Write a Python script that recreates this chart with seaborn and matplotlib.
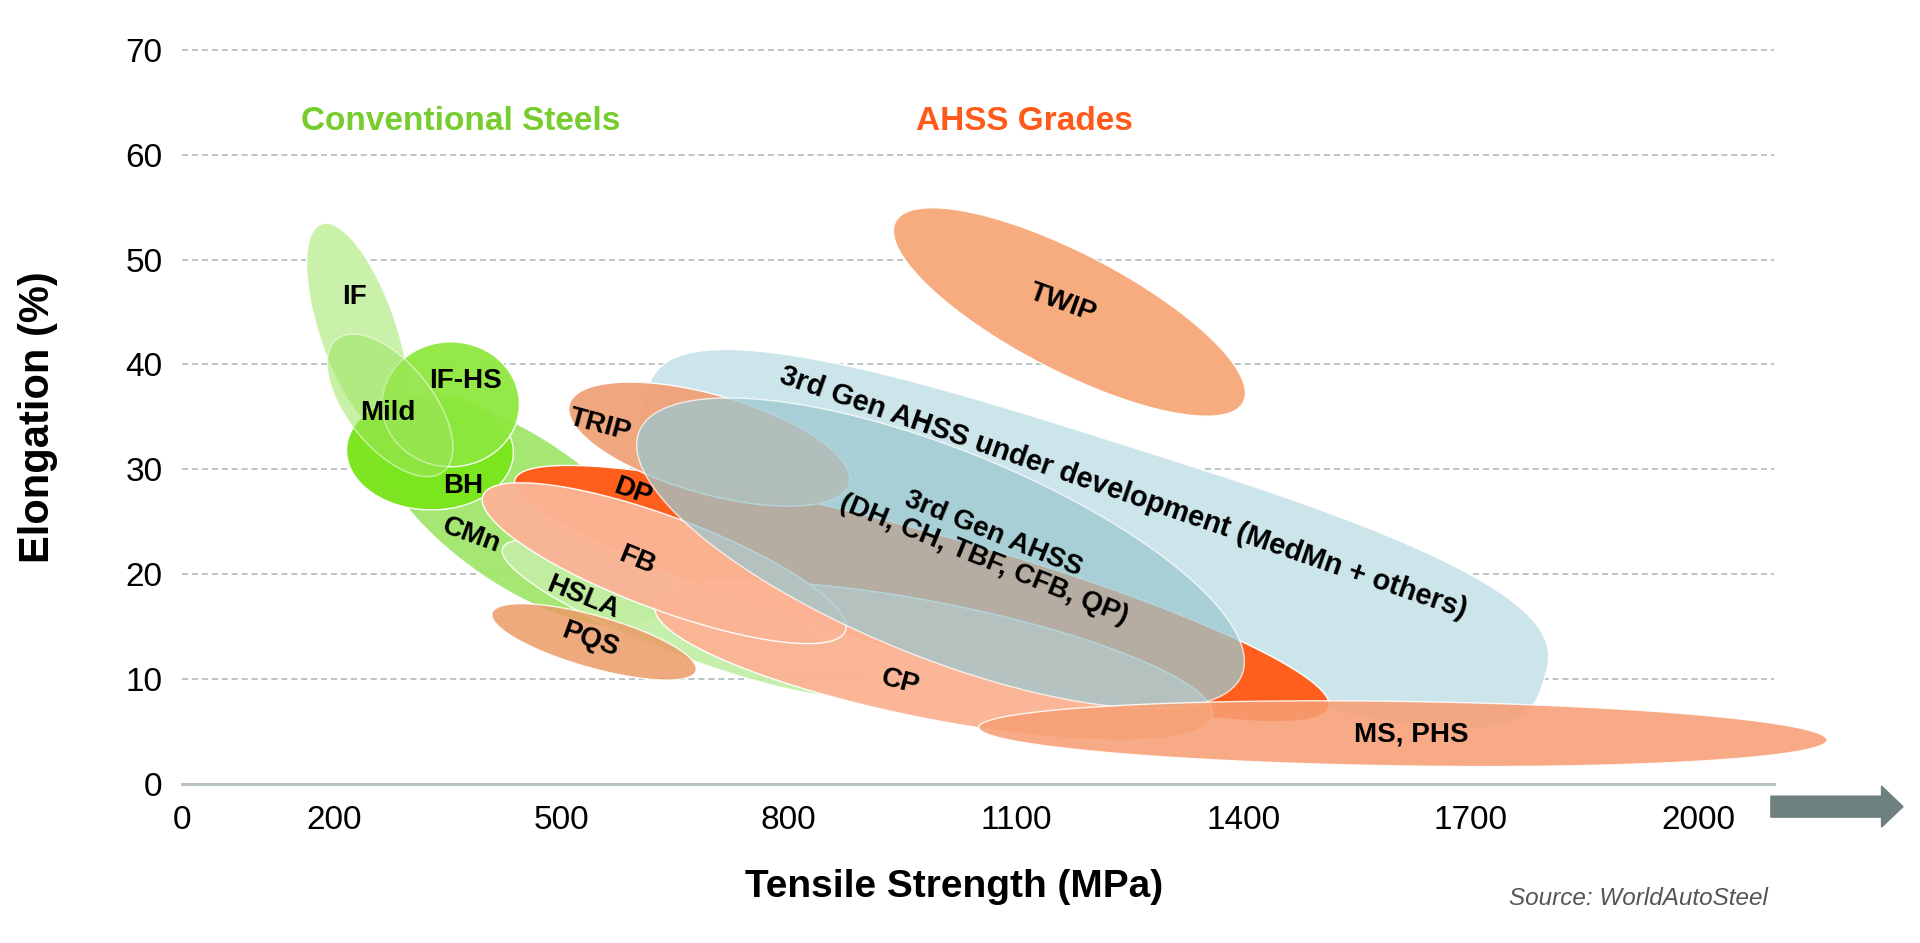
import numpy as np
import matplotlib
matplotlib.use("Agg")
import matplotlib.pyplot as plt
from matplotlib.patches import FancyArrow
import seaborn as sns

# Steel grade regions: major axis runs from (ts_start, el_start) to (ts_end, el_end)
grades = ["3rd Gen AHSS under development (MedMn + others)", "IF", "CMn", "BH", "IF-HS", "Mild",
          "HSLA", "DP", "TRIP", "CP", "FB", "PQS", "3rd Gen AHSS", "TWIP", "MS, PHS"]
ts_start = [610, 184, 261, 217, 264, 204, 423, 439, 511, 624, 397, 409, 603, 941, 1051]
ts_end = [1796, 280, 632, 437, 445, 345, 906, 1513, 880, 1359, 875, 678, 1398, 1400, 2170]
el_start = [36.9, 53.4, 35.3, 31.9, 36.2, 42.4, 22.5, 29.0, 36.2, 17.0, 27.5, 16.3, 33.6, 53.6, 5.4]
el_end = [9.8, 33.1, 16.6, 31.5, 36.2, 29.8, 9.1, 7.3, 28.6, 6.5, 14.6, 10.8, 10.4, 36.4, 4.2]
# width of each region relative to its length
thickness = [0.21, 0.34, 0.43, 0.70, 0.91, 0.50, 0.19, 0.145, 0.34, 0.205, 0.24, 0.245, 0.32, 0.30, 0.076]
shape_power = [3.0, 2, 2, 2, 2, 2, 2, 2, 2, 2, 2, 2, 2, 2, 2]

colors = ["#cce5ea", "#c6f1a6", "#a0e66a", "#7ae51a", "#8ee83e", "#9ee65e",
          "#c3eea5", "#ff5e1c", "#f0a278", "#fbb394", "#fbb495", "#eb9b66",
          "#9cc8d0", "#f7aa7b", "#f79f74"]
alphas = [1, 0.95, 0.95, 0.97, 0.95, 0.55, 0.92, 1, 0.95, 0.97, 0.97, 0.85, 0.75, 0.97, 0.88]

# label anchors (tensile strength, elongation) and text rotation
label_text = ["IF", "IF-HS", "Mild", "BH", "CMn", "HSLA", "PQS", "TRIP", "DP", "FB", "CP",
              "MS, PHS", "TWIP", "3rd Gen AHSS under development (MedMn + others)",
              "3rd Gen AHSS\n(DH, CH, TBF, CFB, QP)"]
label_ts = [228, 374, 272, 371, 382, 529, 539, 552, 595, 600, 947, 1621, 1162, 1241, 1064]
label_el = [46.4, 38.4, 35.4, 28.4, 23.7, 17.8, 13.7, 34.2, 27.8, 21.3, 9.7, 4.7, 45.8, 27.8, 22.6]
label_rot = [0, 0, 0, 0, -20, -22, -20, -15, -20, -22, -15, 0, -20, -19, -22]
label_size = [20, 20, 20, 20, 20, 20, 20, 20, 20, 20, 20, 20, 20, 21, 20]

x_ticks = [0, 200, 500, 800, 1100, 1400, 1700, 2000]
y_ticks = [0, 10, 20, 30, 40, 50, 60, 70]

sns.set_theme(style="whitegrid", rc={
    "grid.color": "#a9b5b5",
    "grid.linestyle": (0, (4, 2.5)),
    "grid.linewidth": 1.1,
    "text.color": "black",
})
plt.rcParams["font.family"] = ["Liberation Sans", "DejaVu Sans"]

fig = plt.figure(figsize=(19.2, 9.43), dpi=100)
ax = fig.add_axes([0.0948, 0.1686, 0.8292, 0.7842])
ax.set_xlim(0, 2100)
ax.set_ylim(0, 70.5)


def region_outline(ax, x0, x1, y0, y1, ratio, power, n=240):
    # build the ellipse in screen space so it looks like the original, then map back to data
    p = ax.transData.transform(np.array([[x0, y0], [x1, y1]]))
    c = p.mean(axis=0)
    d = (p[1] - p[0]) / 2
    a = np.hypot(*d)
    u = d / a
    v = np.array([-u[1], u[0]])
    t = np.linspace(0, 2 * np.pi, n)
    cu = np.sign(np.cos(t)) * np.abs(np.cos(t)) ** (2 / power)
    sv = np.sign(np.sin(t)) * np.abs(np.sin(t)) ** (2 / power)
    pts = c + np.outer(a * cu, u) + np.outer(ratio * a * sv, v)
    return ax.transData.inverted().transform(pts)


for i, g in enumerate(grades):
    pts = region_outline(ax, ts_start[i], ts_end[i], el_start[i], el_end[i],
                         thickness[i], shape_power[i])
    ax.fill(pts[:, 0], pts[:, 1], facecolor=colors[i], alpha=alphas[i],
            edgecolor="white", linewidth=1.0, zorder=2 + i, clip_on=False)

for txt, x, y, r, s in zip(label_text, label_ts, label_el, label_rot, label_size):
    ax.text(x, y, txt, ha="center", va="center", rotation=r, rotation_mode="anchor",
            fontsize=s, fontweight="bold", color="black", zorder=30,
            multialignment="center", linespacing=1.05)

ax.text(368, 63.2, "Conventional Steels", ha="center", va="center",
        fontsize=24, fontweight="bold", color="#77cc2e", zorder=30)
ax.text(1111, 63.2, "AHSS Grades", ha="center", va="center",
        fontsize=24, fontweight="bold", color="#ff5a1a", zorder=30)

ax.set_xticks(x_ticks)
ax.set_xticklabels([str(v) for v in x_ticks])
ax.set_yticks(y_ticks)
ax.set_yticklabels([str(v) for v in y_ticks])
ax.tick_params(axis="both", length=0, labelsize=24, colors="black")
ax.tick_params(axis="x", pad=15)
ax.tick_params(axis="y", pad=14)
ax.grid(axis="x", visible=False)
ax.grid(axis="y", visible=True)
ax.set_axisbelow(True)

sns.despine(ax=ax, left=True, top=True, right=True)
ax.spines["bottom"].set_color("#b8c2c2")
ax.spines["bottom"].set_linewidth(2.2)
ax.spines["bottom"].set_zorder(1)

ax.add_patch(FancyArrow(0.998, -0.0306, 0.083, 0, width=0.0284, head_width=0.0554,
                        head_length=0.0135, length_includes_head=True,
                        transform=ax.transAxes, color="#6e8080", clip_on=False))

fig.text(0.0198, 0.5578, "Elongation (%)", rotation=90, ha="center", va="center",
         fontsize=30, fontweight="bold", color="black")
fig.text(0.4969, 0.0594, "Tensile Strength (MPa)", ha="center", va="center",
         fontsize=28, fontweight="bold", color="black")
fig.text(0.9208, 0.0477, "Source: WorldAutoSteel", ha="right", va="center",
         fontsize=17.5, style="italic", color="#555555")

fig.savefig("out.png", dpi=100)
plt.close(fig)
